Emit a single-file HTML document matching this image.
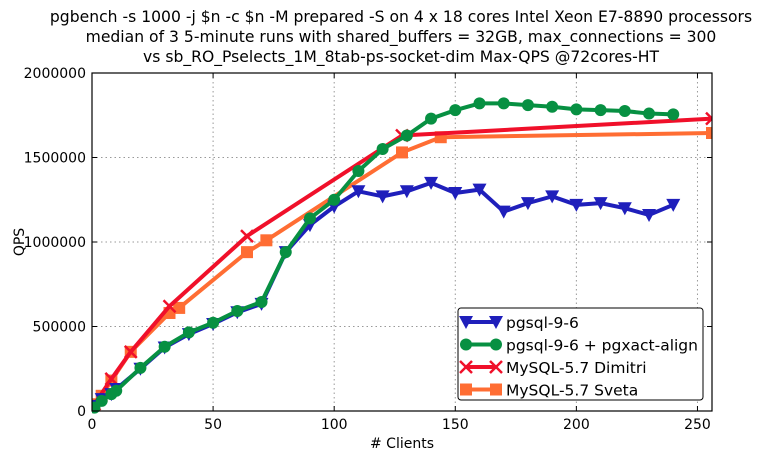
<!DOCTYPE html>
<html><head><meta charset="utf-8"><style>
body{margin:0;background:#fff;width:763px;height:470px;overflow:hidden;font-family:"Liberation Sans","DejaVu Sans",sans-serif}
</style></head><body>
<svg id="chart" width="763" height="470" xmlns="http://www.w3.org/2000/svg" font-family="DejaVu Sans, Liberation Sans, sans-serif"></svg>
<script>
const xTicks=[0,50,100,150,200,250];
const yTicks=[0,500000,1000000,1500000,2000000];
const pgX=[1,4,8,10,20,30,40,50,60,70,80,90,100,110,120,130,140,150,160,170,180,190,200,210,220,230,240];
const pgY=[30000,70000,100000,130000,250000,376000,455000,515000,584000,634000,940000,1100000,1210000,1300000,1270000,1300000,1350000,1290000,1310000,1180000,1230000,1270000,1220000,1230000,1200000,1160000,1220000];
const pgaX=[1,4,8,10,20,30,40,50,60,70,80,90,100,110,120,130,140,150,160,170,180,190,200,210,220,230,240];
const pgaY=[20000,60000,100000,120000,255000,380000,465000,522000,592000,645000,940000,1140000,1250000,1420000,1550000,1630000,1730000,1780000,1820000,1820000,1810000,1800000,1785000,1780000,1775000,1760000,1755000];
const dimX=[1,8,16,32,64,128,256];
const dimY=[40000,190000,350000,620000,1035000,1630000,1730000];
const svX=[1,4,8,16,32,36,64,72,128,144,256];
const svY=[40000,90000,180000,350000,580000,610000,940000,1010000,1530000,1620000,1645000];

const svg=document.getElementById('chart');
const NS='http://www.w3.org/2000/svg';
const L=92,R=712,T=73,B=411,XMAX=256,YMAX=2000000;
function sx(v){return L+(R-L)*v/XMAX;}
function sy(v){return B-(B-T)*v/YMAX;}
function mk(tag,attrs,parent){const e=document.createElementNS(NS,tag);for(const k in attrs)e.setAttribute(k,attrs[k]);(parent||svg).appendChild(e);return e;}

function txt(x,y,s,size,anchor){const t=mk('text',{x:x,y:y,'font-size':size,'text-anchor':anchor||'middle',fill:'#000'});t.textContent=s;return t;}
const titles=['pgbench -s 1000 -j $n -c $n -M prepared -S on 4 x 18 cores Intel Xeon E7-8890 processors','median of 3 5-minute runs with shared_buffers = 32GB, max_connections = 300','vs sb_RO_Pselects_1M_8tab-ps-socket-dim Max-QPS @72cores-HT'];
titles.forEach((s,i)=>{const t=txt(401,22+i*20,s,15.6);

});

xTicks.forEach(v=>{const x=sx(v);
const g=mk('line',{x1:x,x2:x,y1:T,y2:B,stroke:'#999','stroke-dasharray':'1.5,3','stroke-width':1});


mk('line',{x1:x,x2:x,y1:B,y2:B-5,stroke:'#000'});mk('line',{x1:x,x2:x,y1:T,y2:T+5,stroke:'#000'});
const t=txt(x,429,String(v),14);

});
yTicks.forEach(v=>{const y=sy(v);
const g=mk('line',{x1:L,x2:R,y1:y,y2:y,stroke:'#999','stroke-dasharray':'1.5,3','stroke-width':1});


mk('line',{x1:L,x2:L+5,y1:y,y2:y,stroke:'#000'});mk('line',{x1:R,x2:R-5,y1:y,y2:y,stroke:'#000'});
const t=txt(86,y+5,String(v),14,'end');

});

const xl=txt(402,448,'# Clients',14);


const yl=txt(0,0,'QPS',14);yl.setAttribute('transform','translate(24,242) rotate(-90)');



const clip=mk('clipPath',{id:'c'});mk('rect',{x:L,y:T-10,width:R-L,height:B-T+20},clip);

function marker(g,type,x,y,color){
 if(type==='tri')mk('polygon',{points:`${x-7},${y-6} ${x+7},${y-6} ${x},${y+7}`,fill:color},g);
 else if(type==='circ')mk('circle',{cx:x,cy:y,r:6,fill:color},g);
 else if(type==='sq')mk('rect',{x:x-6,y:y-6,width:12,height:12,fill:color},g);
 else {mk('line',{x1:x-6,y1:y-6,x2:x+6,y2:y+6,stroke:color,'stroke-width':2.5},g);mk('line',{x1:x-6,y1:y+6,x2:x+6,y2:y-6,stroke:color,'stroke-width':2.5},g);}
}
function series(name,xs,ys,color,type){
 const g=mk('g',{'clip-path':'url(#c)'});
 
 
 mk('polyline',{points:xs.map((x,i)=>sx(x)+','+sy(ys[i])).join(' '),fill:'none',stroke:color,'stroke-width':4,'stroke-linejoin':'round'},g);
 xs.forEach((x,i)=>marker(g,type,sx(x),sy(ys[i]),color));
}
series('series-sveta',svX,svY,'#ff6d33','sq');
series('series-dimitri',dimX,dimY,'#f0102a','x');
series('series-pgsql',pgX,pgY,'#1f1fbb','tri');
series('series-pgsql-align',pgaX,pgaY,'#079042','circ');

mk('rect',{x:L,y:T,width:R-L,height:B-T,fill:'none',stroke:'#000','stroke-width':1.2});

const lg=mk('g',{});


mk('rect',{x:458,y:308,width:245,height:92,rx:3,fill:'#fff',stroke:'#000','stroke-width':1},lg);
const ent=[['pgsql-9-6','#1f1fbb','tri'],['pgsql-9-6 + pgxact-align','#079042','circ'],['MySQL-5.7 Dimitri','#f0102a','x'],['MySQL-5.7 Sveta','#ff6d33','sq']];
ent.forEach((e,i)=>{const y=322+i*22.5;const eg=mk('g',{},lg);


mk('line',{x1:466,x2:496,y1:y,y2:y,stroke:e[1],'stroke-width':4},eg);
marker(eg,e[2],466,y,e[1]);marker(eg,e[2],496,y,e[1]);
const t=mk('text',{x:506,y:y+6,'font-size':15.5,fill:'#000'},eg);t.textContent=e[0];});
</script>
</body></html>
